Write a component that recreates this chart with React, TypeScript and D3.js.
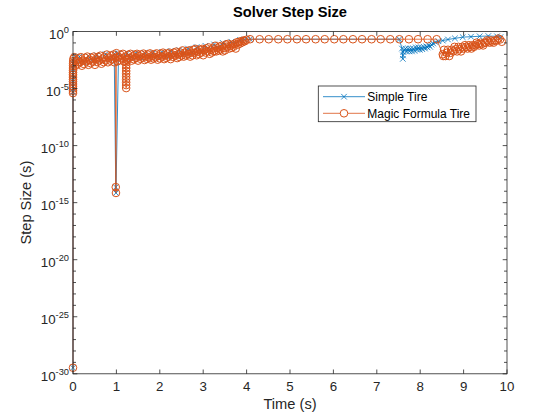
import React from 'react';
import * as d3 from 'd3';

// [time (s), step size (s)]
const magicColumn: [number, number][] = [
  [0, 3.4e-30], [0, 4e-6], [0, 6.3e-6], [0, 1e-5], [0, 1.6e-5], [0, 2.5e-5], [0, 4e-5],
  [0, 6.3e-5], [0, 1e-4], [0, 1.6e-4], [0, 2.5e-4], [0.0004, 4e-4], [0.001, 6.3e-4],
  [0.002, 1e-3], [0.003, 1.6e-3], [0.005, 2.5e-3], [0.009, 4e-3],
];

const magicBandA: [number, number][] = [
  [0.03, 5.6e-3], [0.055, 1.0e-3], [0.08, 2.8e-3], [0.105, 1.4e-3], [0.13, 4.4e-3],
  [0.155, 2.0e-3], [0.18, 5.6e-3], [0.205, 1.0e-3], [0.23, 2.8e-3], [0.255, 1.4e-3],
  [0.28, 4.9e-3], [0.305, 2.3e-3], [0.33, 6.3e-3], [0.355, 1.2e-3], [0.38, 3.2e-3],
  [0.405, 1.7e-3], [0.43, 4.9e-3], [0.455, 2.3e-3], [0.48, 6.3e-3], [0.505, 1.2e-3],
  [0.53, 4.0e-3], [0.555, 2.1e-3], [0.58, 5.9e-3], [0.605, 2.9e-3], [0.63, 7.6e-3],
  [0.655, 1.5e-3], [0.68, 4.0e-3], [0.705, 2.1e-3], [0.73, 5.9e-3], [0.755, 2.9e-3],
  [0.78, 9.5e-3], [0.805, 2.0e-3], [0.83, 5.1e-3], [0.855, 2.8e-3], [0.88, 7.6e-3],
  [0.905, 3.7e-3], [0.93, 9.5e-3], [0.955, 2.0e-3], [0.975, 5.1e-3],
  // spike near t = 1
  [0.985, 2.3e-14], [0.99, 7.1e-15],
  [1.0, 1.26e-2], [1.025, 2.4e-3], [1.05, 6.0e-3], [1.075, 3.2e-3], [1.1, 8.9e-3],
  [1.125, 4.5e-3], [1.15, 1.1e-2], [1.175, 2.4e-3], [1.2, 6.0e-3],
  // dip near t = 1.22
  [1.225, 1.1e-5], [1.225, 2.0e-5], [1.225, 3.5e-5], [1.225, 6.3e-5], [1.225, 1.1e-4],
  [1.225, 2.0e-4], [1.226, 3.5e-4], [1.226, 6.3e-4], [1.227, 1.1e-3], [1.228, 2.0e-3],
  [1.23, 3.5e-3], [1.25, 3.2e-3],
];

const magicBandB: [number, number][] = [
  [1.275, 9.1e-3], [1.3, 4.9e-3], [1.325, 1.1e-2], [1.35, 2.8e-3], [1.375, 6.5e-3],
  [1.4, 3.7e-3], [1.425, 9.1e-3], [1.45, 4.9e-3], [1.475, 1.1e-2], [1.5, 2.8e-3],
  [1.525, 6.9e-3], [1.55, 4.1e-3], [1.575, 9.5e-3], [1.6, 5.2e-3], [1.625, 1.15e-2],
  [1.65, 3.2e-3], [1.675, 6.9e-3], [1.7, 4.1e-3], [1.725, 9.5e-3], [1.75, 5.2e-3],
  [1.775, 1.2e-2], [1.8, 3.4e-3], [1.825, 7.2e-3], [1.85, 4.4e-3], [1.875, 1.0e-2],
  [1.9, 5.6e-3], [1.925, 1.2e-2], [1.95, 3.4e-3], [1.975, 7.2e-3], [2.0, 4.4e-3],
  [2.025, 1.15e-2], [2.05, 6.3e-3], [2.075, 1.4e-2], [2.1, 3.8e-3], [2.125, 8.3e-3],
  [2.15, 4.9e-3], [2.175, 1.15e-2], [2.2, 6.3e-3], [2.225, 1.4e-2], [2.25, 3.8e-3],
  [2.275, 1.0e-2], [2.3, 6.0e-3], [2.325, 1.4e-2], [2.35, 7.9e-3], [2.375, 1.7e-2],
  [2.4, 4.7e-3], [2.425, 1.0e-2], [2.45, 6.0e-3], [2.475, 1.4e-2], [2.5, 7.9e-3],
  [2.525, 2.2e-2], [2.55, 6.3e-3], [2.575, 1.35e-2], [2.6, 8.1e-3], [2.625, 1.9e-2],
  [2.65, 1.05e-2], [2.675, 2.2e-2], [2.7, 6.3e-3], [2.725, 1.35e-2], [2.75, 8.1e-3],
  [2.775, 2.5e-2], [2.8, 1.4e-2], [2.825, 3.0e-2], [2.85, 8.3e-3], [2.875, 1.8e-2],
  [2.9, 1.07e-2], [2.925, 2.5e-2], [2.95, 1.4e-2], [2.975, 3.0e-2], [3.0, 8.3e-3],
  [3.025, 2.4e-2], [3.05, 1.45e-2], [3.075, 3.3e-2], [3.1, 1.9e-2], [3.125, 4.0e-2],
  [3.15, 1.1e-2], [3.175, 2.4e-2], [3.2, 1.45e-2], [3.225, 3.3e-2], [3.25, 1.9e-2],
  [3.275, 5.6e-2], [3.3, 1.8e-2], [3.325, 3.5e-2], [3.35, 2.2e-2], [3.375, 4.7e-2],
  [3.4, 2.8e-2], [3.425, 5.6e-2], [3.45, 1.8e-2], [3.475, 3.5e-2], [3.5, 2.2e-2],
  [3.525, 7.2e-2], [3.55, 4.7e-2], [3.575, 8.3e-2], [3.6, 3.2e-2], [3.625, 5.6e-2],
  [3.65, 3.8e-2], [3.675, 7.2e-2], [3.7, 4.7e-2], [3.725, 8.3e-2], [3.75, 3.2e-2],
  [3.775, 0.112], [3.8, 0.071], [3.825, 0.126], [3.85, 0.089], [3.875, 0.141],
  [3.9, 0.112], [3.93, 0.166], [3.96, 0.141], [4.0, 0.19],
];

const magicPlateau: [number, number][] = [
  [4.08, 0.21], [4.3, 0.21], [4.51, 0.21], [4.73, 0.21], [4.94, 0.21], [5.16, 0.21],
  [5.37, 0.21], [5.59, 0.21], [5.8, 0.21], [6.02, 0.21], [6.23, 0.21], [6.45, 0.21],
  [6.66, 0.21], [6.88, 0.21], [7.09, 0.21], [7.31, 0.21], [7.52, 0.21], [7.74, 0.21],
  [7.95, 0.21], [8.17, 0.21], [8.38, 0.21],
];

const magicTail: [number, number][] = [
  [8.52, 0.01], [8.53, 0.0071],
  [8.55, 0.025], [8.58, 0.0071], [8.61, 0.0135], [8.64, 0.025], [8.67, 0.0071], [8.7, 0.0135],
  [8.73, 0.025], [8.76, 0.018], [8.79, 0.045], [8.82, 0.028], [8.85, 0.018], [8.88, 0.045],
  [8.91, 0.028], [8.94, 0.018], [8.97, 0.045], [9.0, 0.032], [9.03, 0.063], [9.06, 0.045],
  [9.09, 0.032], [9.12, 0.063], [9.15, 0.045], [9.18, 0.032], [9.21, 0.063], [9.24, 0.045],
  [9.27, 0.06], [9.3, 0.105], [9.33, 0.079], [9.36, 0.06], [9.39, 0.105], [9.42, 0.079],
  [9.45, 0.06], [9.48, 0.105], [9.51, 0.105], [9.54, 0.166], [9.57, 0.132], [9.6, 0.105],
  [9.63, 0.166], [9.66, 0.132], [9.69, 0.105], [9.72, 0.166], [9.76, 0.158], [9.8, 0.24],
  [9.84, 0.2], [9.88, 0.126],
];

const simpleStart: [number, number][] = [
  [0, 3.4e-30], [0, 5e-6], [0, 1.6e-5], [0, 5e-5], [0, 1.6e-4], [0.001, 5e-4], [0.003, 1.6e-3],
  [0.05, 6.3e-3], [0.1, 1.6e-3], [0.15, 6.3e-3], [0.25, 2.0e-3], [0.35, 7.1e-3],
  [0.45, 2.5e-3], [0.55, 8.3e-3], [0.65, 3.2e-3], [0.75, 1.05e-2], [0.85, 3.5e-3],
  [0.95, 1.1e-2], [0.985, 2.3e-14], [0.99, 7.1e-15], [1.05, 1.25e-2], [1.15, 5.0e-3],
  [1.25, 1.25e-2], [1.35, 5.0e-3], [1.45, 1.25e-2], [1.55, 5.6e-3], [1.65, 1.3e-2],
  [1.75, 6.3e-3], [1.85, 1.35e-2], [1.95, 6.3e-3], [2.05, 1.55e-2], [2.15, 7.1e-3],
  [2.25, 1.95e-2], [2.35, 8.9e-3], [2.45, 2.4e-2], [2.55, 1.1e-2], [2.65, 3.2e-2],
  [2.75, 1.4e-2], [2.85, 4.3e-2], [2.95, 1.8e-2], [3.05, 5.6e-2], [3.15, 2.5e-2],
  [3.25, 7.4e-2], [3.35, 3.5e-2], [3.45, 0.1], [3.55, 5.6e-2], [3.65, 0.126],
  [3.75, 8.9e-2], [3.85, 0.178], [3.95, 0.2], [4.08, 0.21],
];

const simpleTail: [number, number][] = [
  [7.52, 0.21], [7.58, 0.032], [7.6, 0.004], [7.605, 0.008], [7.61, 0.016], [7.63, 0.025],
  [7.66, 0.032], [7.69, 0.018], [7.72, 0.032], [7.75, 0.018], [7.78, 0.032], [7.81, 0.018],
  [7.84, 0.032], [7.87, 0.02], [7.9, 0.04], [7.93, 0.025], [7.96, 0.04], [7.99, 0.025],
  [8.02, 0.04], [8.05, 0.028], [8.08, 0.045], [8.11, 0.032], [8.14, 0.05], [8.17, 0.04],
  [8.2, 0.063], [8.23, 0.045], [8.26, 0.071], [8.3, 0.089], [8.36, 0.112], [8.42, 0.14],
  [8.52, 0.16], [8.64, 0.2], [8.8, 0.25], [8.98, 0.32], [9.17, 0.35], [9.37, 0.38],
  [9.57, 0.4], [9.77, 0.38], [9.85, 0.32],
];

const simpleTire = [...simpleStart, ...simpleTail];
const magicFormulaTire = [...magicColumn, ...magicBandA, ...magicBandB, ...magicPlateau, ...magicTail];

const xTicks = [0, 1, 2, 3, 4, 5, 6, 7, 8, 9, 10];
const yMajorExponents = [0, -5, -10, -15, -20, -25, -30];
const seriesNames = ['Simple Tire', 'Magic Formula Tire'];

const BLUE = '#0072BD';
const ORANGE = '#D95319';
const AXIS = '#262626';
const FONT = '"Liberation Sans", Arial, Helvetica, sans-serif';

const W = 560;
const H = 420;
const left = 73, right = 507, top = 31.5, bottom = 373.8;

const App = () => {
  const x = d3.scaleLinear().domain([0, 10]).range([left, right]);
  const y = d3.scaleLog().domain([1e-30, 1]).range([bottom, top]);

  const line = d3.line<[number, number]>()
    .x(d => x(d[0]))
    .y(d => y(d[1]));

  const s = 2.8;
  const crosses = simpleTire
    .map(d => {
      const cx = x(d[0]), cy = y(d[1]);
      return `M${cx - s},${cy - s}L${cx + s},${cy + s}M${cx - s},${cy + s}L${cx + s},${cy - s}`;
    })
    .join('');

  const minorExponents = d3.range(-30, 1);
  const tl = 4.3;

  // legend
  const lgX = 318.3, lgY = 86, lgW = 157.7, lgH = 35.7;
  const rowY = [96.7, 113.3];

  return (
    <svg
      width={W}
      height={H}
      style={{ position: 'absolute', left: 0, top: 0, background: '#fff' }}
      fontFamily={FONT}
    >
      <rect x={0} y={0} width={W} height={H} fill="#fff" />

      {/* Simple Tire */}
      <path d={line(simpleTire) || ''} fill="none" stroke={BLUE} strokeWidth={0.8} />
      <path d={crosses} fill="none" stroke={BLUE} strokeWidth={0.8} />

      {/* Magic Formula Tire */}
      <path d={line(magicFormulaTire) || ''} fill="none" stroke={ORANGE} strokeWidth={0.8} />
      {magicFormulaTire.map((d, i) => (
        <circle key={i} cx={x(d[0])} cy={y(d[1])} r={3.8} fill="none" stroke={ORANGE} strokeWidth={1} />
      ))}

      {/* axes box */}
      <rect x={left} y={top} width={right - left} height={bottom - top} fill="none" stroke={AXIS} strokeWidth={0.8} />

      {/* x ticks */}
      {xTicks.map(t => (
        <g key={t}>
          <line x1={x(t)} x2={x(t)} y1={bottom} y2={bottom - tl} stroke={AXIS} strokeWidth={0.8} />
          <line x1={x(t)} x2={x(t)} y1={top} y2={top + tl} stroke={AXIS} strokeWidth={0.8} />
          <text x={x(t)} y={391} textAnchor="middle" fontSize={13.3} fill={AXIS}>{t}</text>
        </g>
      ))}

      {/* y ticks, every decade */}
      {minorExponents.map(e => {
        const yy = y(Math.pow(10, e));
        const len = e % 5 === 0 ? tl : 3;
        return (
          <g key={e}>
            <line x1={left} x2={left + len} y1={yy} y2={yy} stroke={AXIS} strokeWidth={0.8} />
            <line x1={right} x2={right - len} y1={yy} y2={yy} stroke={AXIS} strokeWidth={0.8} />
          </g>
        );
      })}
      {yMajorExponents.map(e => {
        const yy = y(Math.pow(10, e));
        return (
          <text key={e} x={69} y={yy + 7} textAnchor="end" fontSize={13.3} fill={AXIS}>
            10<tspan dy={-6} fontSize={9.3}>{e}</tspan>
          </text>
        );
      })}

      {/* labels */}
      <text x={(left + right) / 2} y={17} textAnchor="middle" fontSize={14.67} fontWeight="bold" fill="#000">
        Solver Step Size
      </text>
      <text x={(left + right) / 2} y={408.5} textAnchor="middle" fontSize={14.67} fill={AXIS}>
        Time (s)
      </text>
      <text
        transform={`translate(31,${(top + bottom) / 2}) rotate(-90)`}
        textAnchor="middle"
        fontSize={14.67}
        fill={AXIS}
      >
        Step Size (s)
      </text>

      {/* legend */}
      <rect x={lgX} y={lgY} width={lgW} height={lgH} fill="#fff" stroke={AXIS} strokeWidth={0.8} />
      <line x1={323} x2={365} y1={rowY[0]} y2={rowY[0]} stroke={BLUE} strokeWidth={0.8} />
      <path
        d={`M${344 - s},${rowY[0] - s}L${344 + s},${rowY[0] + s}M${344 - s},${rowY[0] + s}L${344 + s},${rowY[0] - s}`}
        stroke={BLUE}
        strokeWidth={0.8}
      />
      <line x1={323} x2={365} y1={rowY[1]} y2={rowY[1]} stroke={ORANGE} strokeWidth={0.8} />
      <circle cx={344} cy={rowY[1]} r={3.8} fill="#fff" stroke={ORANGE} strokeWidth={1} />
      {seriesNames.map((n, i) => (
        <text key={n} x={367.3} y={rowY[i] + 4.3} fontSize={12} fill="#000">{n}</text>
      ))}
    </svg>
  );
};

export default App;
